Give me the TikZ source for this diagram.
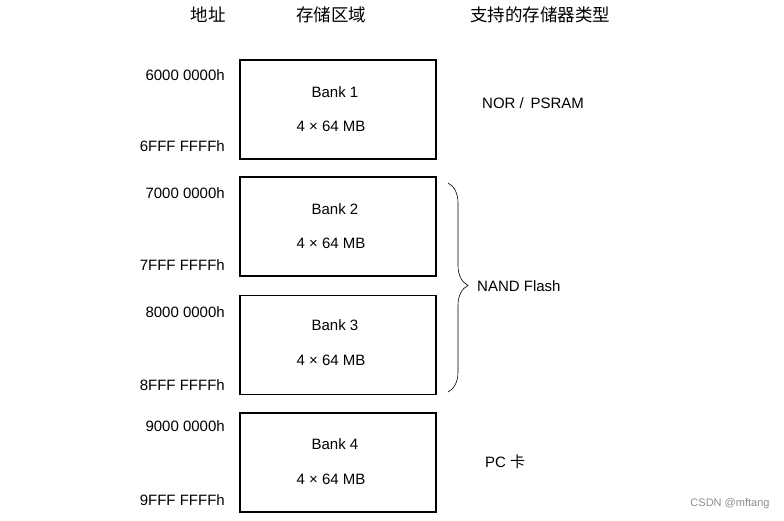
\documentclass[tikz,border=0pt]{standalone}
\usepackage{fontspec}
\setmainfont{Liberation Sans}
\newfontfamily\cjk{Noto Sans CJK SC}
\usetikzlibrary{decorations.pathreplacing}

\begin{document}
\begin{tikzpicture}[x=1pt,y=-1pt,
  bank/.style={draw,line width=1.6pt,minimum width=196pt,minimum height=99pt,inner sep=0pt},
  addr/.style={anchor=east,inner sep=0pt,font=\fontsize{15}{17}\selectfont},
  txt/.style={inner sep=0pt,font=\fontsize{15}{17}\selectfont},
  head/.style={inner sep=0pt,font=\cjk\fontsize{17.5}{20}\selectfont}]
\useasboundingbox (0,0) rectangle (784,520);
% headers
\node[head] (h1) at (208,15) {地址};
\node[head] (h2) at (331,15) {存储区域};
\node[head] (h3) at (540,15) {支持的存储器类型};
% banks
\node[bank] (b1) at (338,109.5) {};
\node[bank] (b2) at (338,226.5) {};
\node[bank] (b3) at (338,345) {};
\node[bank] (b4) at (338,462.5) {};
\node[txt] (n1) at (335,92) {Bank 1};
\node[txt] (s1) at (331,126) {4 × 64 MB};
\node[txt] (n2) at (335,209) {Bank 2};
\node[txt] (s2) at (331,243) {4 × 64 MB};
\node[txt] (n3) at (335,325) {Bank 3};
\node[txt] (s3) at (331,360) {4 × 64 MB};
\node[txt] (n4) at (335,444) {Bank 4};
\node[txt] (s4) at (331,479) {4 × 64 MB};
% addresses
\node[addr] (a1) at (225,75) {6000 0000h};
\node[addr] (e1) at (225,146) {6FFF FFFFh};
\node[addr] (a2) at (225,193) {7000 0000h};
\node[addr] (e2) at (225,265) {7FFF FFFFh};
\node[addr] (a3) at (225,312) {8000 0000h};
\node[addr] (e3) at (225,385) {8FFF FFFFh};
\node[addr] (a4) at (225,426) {9000 0000h};
\node[addr] (e4) at (225,500) {9FFF FFFFh};
% memory types
\node[txt,anchor=west] (t1) at (482,103) {NOR / \,PSRAM};
\node[txt,anchor=west] (t2) at (477,286) {NAND Flash};
\node[txt,anchor=west] (t3) at (485,462) {PC {\cjk 卡}};
\coordinate (bt) at (448,183);
\coordinate (bb) at (448,392);
\draw[decorate,decoration={brace,amplitude=20pt,aspect=0.49},line width=0.6pt] (bt) -- (bb);
\node[inner sep=0pt,text=black!45,font=\fontsize{11}{13}\selectfont] (wm) at (730,504) {CSDN @mftang};
\end{tikzpicture}
\end{document}
